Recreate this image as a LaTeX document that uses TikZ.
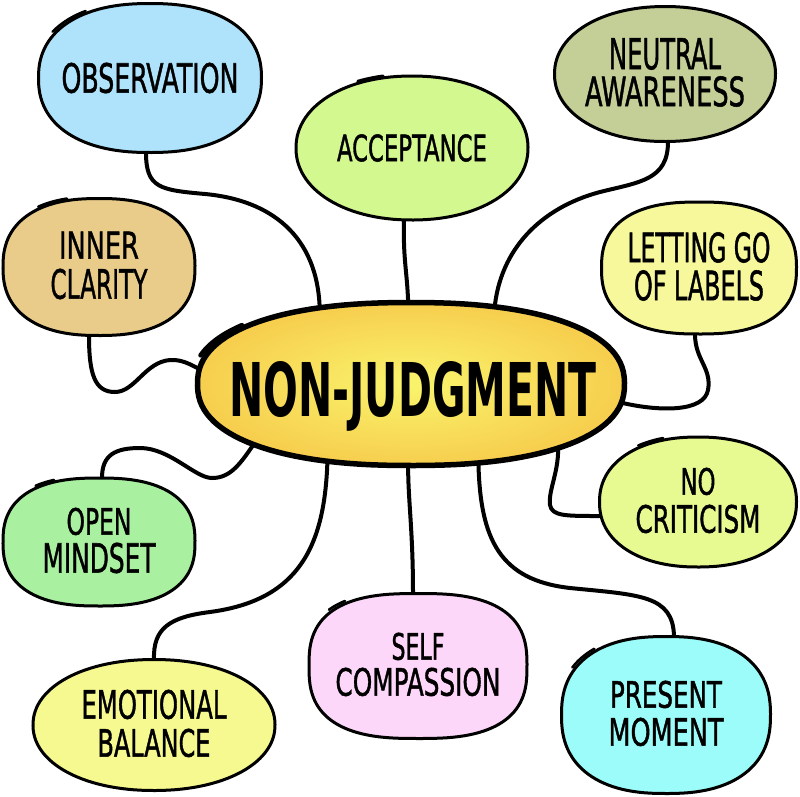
\documentclass[tikz,border=0pt]{standalone}
\usepackage{graphicx}
\usepackage{fontspec}
\newfontfamily\hw{DejaVu Sans Condensed}[FakeBold=1.3]
\newfontfamily\hwb{DejaVu Sans Condensed Bold}
\usetikzlibrary{backgrounds,shapes.geometric}
\definecolor{cObs}{HTML}{AEE3FB}
\definecolor{cAcc}{HTML}{D3F88F}
\definecolor{cNeu}{HTML}{C4CF98}
\definecolor{cInn}{HTML}{E9CC8A}
\definecolor{cLet}{HTML}{F7F89B}
\definecolor{cOpn}{HTML}{A9F1A0}
\definecolor{cNoc}{HTML}{E7FA91}
\definecolor{cSel}{HTML}{FCD7F9}
\definecolor{cEmo}{HTML}{F6F98F}
\definecolor{cPre}{HTML}{9CFCF9}
\definecolor{cIn}{HTML}{F9F46C}
\definecolor{cOut}{HTML}{F7CE4E}
\newcommand\oneL[3]{\resizebox{#1pt}{#2pt}{#3}}
\newcommand\twoL[7]{\begin{tabular}{@{}c@{}}\resizebox{#1pt}{#2pt}{#3}\\[#4pt]\resizebox{#5pt}{#6pt}{#7}\end{tabular}}
% superellipse outline: centre x, centre y, half width, half height, exponent, style
\newcommand\sblob[6]{\path[#6] plot[variable=\t, domain=0.5:357.5, samples=120]
  ({#1+#3*sign(cos(\t))*abs(cos(\t))^(2/#5)},{#2-#4*sign(sin(\t))*abs(sin(\t))^(2/#5)}) -- cycle;}
% overshoot pen stroke: cx, cy, a, b, n, from, to, scale, style
\newcommand\stick[9]{\path[#9] plot[variable=\t, domain=#6:#7, samples=12]
  ({#1+#8*#3*sign(cos(\t))*abs(cos(\t))^(2/#5)},{#2-#8*#4*sign(sin(\t))*abs(sin(\t))^(2/#5)});}
\tikzset{
  blobline/.style={draw=black, line width=3pt, line join=round},
  tickline/.style={draw=black, line width=2.6pt, line cap=round},
  anchorblob/.style={ellipse, inner sep=0pt},
  link/.style={draw=black, line width=4pt, line cap=round},
  cenline/.style={draw=black, line width=5.5pt, line join=round, inner color=cIn, outer color=cOut},
}
\begin{document}
\begin{tikzpicture}[x=1pt,y=-1pt, every node/.style={font=\hw}]
\useasboundingbox (0,0) rectangle (800,796);
% centre
\sblob{411}{384}{213.5}{81.5}{2.3}{cenline}
\stick{411}{384}{213.5}{81.5}{2.3}{138}{163}{1.025}{tickline, line width=4.5pt}
\node[anchorblob, minimum width=427pt, minimum height=163pt] (cen) at (411,384) {};
\node[inner sep=0pt, anchor=base, font=\hwb] (cenT) at (413,416) {\oneL{367}{55}{NON-JUDGMENT}};
% satellites
\sblob{150}{78}{111.5}{74.5}{2.3}{blobline, fill=cObs}
\stick{150}{78}{111.5}{74.5}{2.3}{121}{146}{1.028}{tickline}
\node[anchorblob, minimum width=223pt, minimum height=149pt] (obs) at (150,78) {\oneL{177}{30}{OBSERVATION}};
\sblob{412}{148}{116}{72}{2.1}{blobline, fill=cAcc}
\stick{412}{148}{116}{72}{2.1}{103}{116}{1.028}{tickline}
\node[anchorblob, minimum width=232pt, minimum height=144pt] (acc) at (412,148) {\oneL{150}{27}{ACCEPTANCE}};
\sblob{665}{74}{110.5}{67.5}{2.1}{blobline, fill=cNeu}
\node[anchorblob, minimum width=221pt, minimum height=135pt] (neu) at (665,74) {\twoL{112}{31}{NEUTRAL}{3.4}{160}{30}{AWARENESS}};
\sblob{99}{267}{96}{68.5}{2.4}{blobline, fill=cInn}
\stick{99}{267}{96}{68.5}{2.4}{105}{124}{1.028}{tickline}
\node[anchorblob, minimum width=192pt, minimum height=137pt] (inn) at (99,267) {\twoL{80}{27}{INNER}{6.4}{97}{30}{CLARITY}};
\sblob{699}{268}{97.5}{66}{2.5}{blobline, fill=cLet}
\node[anchorblob, minimum width=195pt, minimum height=132pt] (let) at (699,268) {\twoL{143}{30}{LETTING GO}{4.4}{130}{30}{OF LABELS}};
\sblob{99}{542}{96}{64}{2.5}{blobline, fill=cOpn}
\stick{99}{542}{96}{64}{2.5}{112}{125}{1.03}{tickline}
\node[anchorblob, minimum width=192pt, minimum height=128pt] (opn) at (99,542) {\twoL{65}{27}{OPEN}{4.4}{113}{30}{MINDSET}};
\sblob{698}{502}{98.5}{65}{2.2}{blobline, fill=cNoc}
\stick{698}{502}{98.5}{65}{2.2}{108}{124}{1.03}{tickline}
\node[anchorblob, minimum width=197pt, minimum height=130pt] (noc) at (698,502) {\twoL{35}{27}{NO}{6.4}{125}{28}{CRITICISM}};
\sblob{418}{666}{109}{72.5}{2.7}{blobline, fill=cSel}
\stick{418}{666}{109}{72.5}{2.7}{124}{137}{1.03}{tickline}
\node[anchorblob, minimum width=218pt, minimum height=145pt] (sel) at (418,666) {\twoL{53}{27}{SELF}{4.4}{165}{28}{COMPASSION}};
\sblob{154}{725}{121}{65.5}{2.1}{blobline, fill=cEmo}
\node[anchorblob, minimum width=242pt, minimum height=131pt] (emo) at (154,725) {\twoL{145}{29}{EMOTIONAL}{6.4}{113}{28}{BALANCE}};
\sblob{666}{715}{104.5}{78.5}{2.4}{blobline, fill=cPre}
\stick{666}{715}{104.5}{78.5}{2.4}{128}{148}{1.028}{tickline}
\node[anchorblob, minimum width=209pt, minimum height=157pt] (pre) at (666,715) {\twoL{112}{27}{PRESENT}{6.4}{115}{28}{MOMENT}};
% connectors
\begin{pgfonlayer}{background}
\draw[link] ([xshift=-4pt]obs.south) .. controls (146,188) and (160,190) .. (205,194) .. controls (270,200) and (318,235) .. (cen.141);
\draw[link] ([xshift=-8pt]acc.south) .. controls (403,260) and (407,270) .. (cen.92);
\draw[link] ([xshift=3pt]neu.south) .. controls (668,180) and (640,182) .. (600,192) .. controls (540,208) and (500,250) .. (cen.42);
\draw[link] ([xshift=-4pt]let.south) .. controls (695,360) and (712,368) .. (708,390) .. controls (704,412) and (660,412) .. (cen.-5);
\draw[link] ([xshift=-10pt]inn.south) .. controls (89,375) and (95,392) .. (115,392) .. controls (135,392) and (145,362) .. (170,360) .. controls (185,359) and (195,368) .. (cen.176);
\draw[link] ([xshift=3pt]opn.north) .. controls (102,455) and (115,448) .. (140,448) .. controls (170,448) and (195,478) .. (212,478) .. controls (230,478) and (240,465) .. (cen.200);
\draw[link] (emo.north) .. controls (153,628) and (170,617) .. (210,612) .. controls (300,600) and (325,545) .. (cen.222);
\draw[link] ([xshift=-5pt]sel.north) .. controls (413,530) and (408,500) .. (cen.268);
\draw[link] (cen.-49) .. controls (480,540) and (500,580) .. (570,588) .. controls (640,595) and (673,595) .. ([xshift=8pt]pre.north);
\draw[link] (cen.-22) .. controls (560,470) and (548,490) .. (550,505) .. controls (552,516) and (565,516) .. ([yshift=-14pt]noc.west);
\end{pgfonlayer}
\end{tikzpicture}
\end{document}
